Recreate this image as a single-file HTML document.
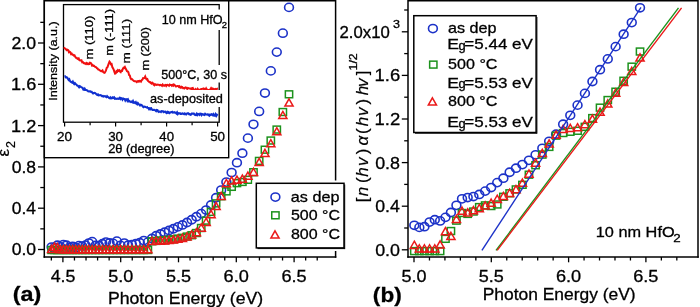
<!DOCTYPE html><html><head><meta charset="utf-8"><style>html,body{margin:0;padding:0;background:#fff;width:700px;height:307px;overflow:hidden}</style></head><body><svg width="700" height="307" viewBox="0 0 700 307" style="position:absolute;left:0;top:0;will-change:transform">
<rect width="700" height="307" fill="#fff"/>
<g font-family='"Liberation Sans", sans-serif'>
<line x1="38.00" y1="249.50" x2="44.30" y2="249.50" stroke="#000" stroke-width="1.3"/>
<line x1="40.30" y1="228.85" x2="44.30" y2="228.85" stroke="#000" stroke-width="1.3"/>
<line x1="38.00" y1="208.20" x2="44.30" y2="208.20" stroke="#000" stroke-width="1.3"/>
<line x1="40.30" y1="187.55" x2="44.30" y2="187.55" stroke="#000" stroke-width="1.3"/>
<line x1="38.00" y1="166.90" x2="44.30" y2="166.90" stroke="#000" stroke-width="1.3"/>
<line x1="40.30" y1="146.25" x2="44.30" y2="146.25" stroke="#000" stroke-width="1.3"/>
<line x1="38.00" y1="125.60" x2="44.30" y2="125.60" stroke="#000" stroke-width="1.3"/>
<line x1="40.30" y1="104.95" x2="44.30" y2="104.95" stroke="#000" stroke-width="1.3"/>
<line x1="38.00" y1="84.30" x2="44.30" y2="84.30" stroke="#000" stroke-width="1.3"/>
<line x1="40.30" y1="63.65" x2="44.30" y2="63.65" stroke="#000" stroke-width="1.3"/>
<line x1="38.00" y1="43.00" x2="44.30" y2="43.00" stroke="#000" stroke-width="1.3"/>
<line x1="40.30" y1="22.35" x2="44.30" y2="22.35" stroke="#000" stroke-width="1.3"/>
<line x1="51.34" y1="257.00" x2="51.34" y2="260.50" stroke="#000" stroke-width="1.3"/>
<line x1="62.90" y1="257.00" x2="62.90" y2="262.30" stroke="#000" stroke-width="1.3"/>
<line x1="74.46" y1="257.00" x2="74.46" y2="260.50" stroke="#000" stroke-width="1.3"/>
<line x1="86.02" y1="257.00" x2="86.02" y2="260.50" stroke="#000" stroke-width="1.3"/>
<line x1="97.58" y1="257.00" x2="97.58" y2="260.50" stroke="#000" stroke-width="1.3"/>
<line x1="109.14" y1="257.00" x2="109.14" y2="260.50" stroke="#000" stroke-width="1.3"/>
<line x1="120.70" y1="257.00" x2="120.70" y2="262.30" stroke="#000" stroke-width="1.3"/>
<line x1="132.26" y1="257.00" x2="132.26" y2="260.50" stroke="#000" stroke-width="1.3"/>
<line x1="143.82" y1="257.00" x2="143.82" y2="260.50" stroke="#000" stroke-width="1.3"/>
<line x1="155.38" y1="257.00" x2="155.38" y2="260.50" stroke="#000" stroke-width="1.3"/>
<line x1="166.94" y1="257.00" x2="166.94" y2="260.50" stroke="#000" stroke-width="1.3"/>
<line x1="178.50" y1="257.00" x2="178.50" y2="262.30" stroke="#000" stroke-width="1.3"/>
<line x1="190.06" y1="257.00" x2="190.06" y2="260.50" stroke="#000" stroke-width="1.3"/>
<line x1="201.62" y1="257.00" x2="201.62" y2="260.50" stroke="#000" stroke-width="1.3"/>
<line x1="213.18" y1="257.00" x2="213.18" y2="260.50" stroke="#000" stroke-width="1.3"/>
<line x1="224.74" y1="257.00" x2="224.74" y2="260.50" stroke="#000" stroke-width="1.3"/>
<line x1="236.30" y1="257.00" x2="236.30" y2="262.30" stroke="#000" stroke-width="1.3"/>
<line x1="247.86" y1="257.00" x2="247.86" y2="260.50" stroke="#000" stroke-width="1.3"/>
<line x1="259.42" y1="257.00" x2="259.42" y2="260.50" stroke="#000" stroke-width="1.3"/>
<line x1="270.98" y1="257.00" x2="270.98" y2="260.50" stroke="#000" stroke-width="1.3"/>
<line x1="282.54" y1="257.00" x2="282.54" y2="260.50" stroke="#000" stroke-width="1.3"/>
<line x1="294.10" y1="257.00" x2="294.10" y2="262.30" stroke="#000" stroke-width="1.3"/>
<line x1="305.66" y1="257.00" x2="305.66" y2="260.50" stroke="#000" stroke-width="1.3"/>
<line x1="317.22" y1="257.00" x2="317.22" y2="260.50" stroke="#000" stroke-width="1.3"/>
<text transform="translate(11.70,255.40) scale(1.064,1)" font-size="16.5" font-weight="normal" font-style="normal" fill="#000" stroke="#000" stroke-width="0.301" >0.0</text>
<text transform="translate(11.70,214.10) scale(1.056,1)" font-size="16.5" font-weight="normal" font-style="normal" fill="#000" stroke="#000" stroke-width="0.303" >0.4</text>
<text transform="translate(11.70,172.80) scale(1.064,1)" font-size="16.5" font-weight="normal" font-style="normal" fill="#000" stroke="#000" stroke-width="0.301" >0.8</text>
<text transform="translate(11.04,131.50) scale(1.102,1)" font-size="16.5" font-weight="normal" font-style="normal" fill="#000" stroke="#000" stroke-width="0.290" >1.2</text>
<text transform="translate(11.04,90.20) scale(1.098,1)" font-size="16.5" font-weight="normal" font-style="normal" fill="#000" stroke="#000" stroke-width="0.292" >1.6</text>
<text transform="translate(11.52,48.90) scale(1.072,1)" font-size="16.5" font-weight="normal" font-style="normal" fill="#000" stroke="#000" stroke-width="0.298" >2.0</text>
<text transform="translate(50.65,282.00) scale(1.079,1)" font-size="16.5" font-weight="normal" font-style="normal" fill="#000" stroke="#000" stroke-width="0.296" >4.5</text>
<text transform="translate(108.18,282.00) scale(1.092,1)" font-size="16.5" font-weight="normal" font-style="normal" fill="#000" stroke="#000" stroke-width="0.293" >5.0</text>
<text transform="translate(165.98,282.00) scale(1.092,1)" font-size="16.5" font-weight="normal" font-style="normal" fill="#000" stroke="#000" stroke-width="0.293" >5.5</text>
<text transform="translate(223.59,282.00) scale(1.100,1)" font-size="16.5" font-weight="normal" font-style="normal" fill="#000" stroke="#000" stroke-width="0.291" >6.0</text>
<text transform="translate(281.39,282.00) scale(1.100,1)" font-size="16.5" font-weight="normal" font-style="normal" fill="#000" stroke="#000" stroke-width="0.291" >6.5</text>
<text transform="translate(107.88,303.50) scale(1.086,1)" font-size="16.3" font-weight="normal" font-style="normal" fill="#000" stroke="#000" stroke-width="0.295" >Photon Energy (eV)</text>
<text transform="translate(12.63,301.20) scale(1.181,1)" font-size="19.8" font-weight="bold" font-style="normal" fill="#000" stroke="#000" stroke-width="0.271" >(a)</text>
<text transform="translate(9.4,156.6) rotate(-90)" font-size="17" fill="#000" stroke="#000" stroke-width="0.2">ε</text>
<text transform="translate(14.9,148.0) rotate(-90)" font-size="12.5" fill="#000" stroke="#000" stroke-width="0.2">2</text>
<ellipse cx="51.59" cy="247.04" rx="4.4" ry="4.1" fill="none" stroke="#1c32c8" stroke-width="1.6"/>
<ellipse cx="54.50" cy="247.42" rx="4.4" ry="4.1" fill="none" stroke="#1c32c8" stroke-width="1.6"/>
<ellipse cx="57.44" cy="245.26" rx="4.4" ry="4.1" fill="none" stroke="#1c32c8" stroke-width="1.6"/>
<ellipse cx="60.41" cy="246.85" rx="4.4" ry="4.1" fill="none" stroke="#1c32c8" stroke-width="1.6"/>
<ellipse cx="63.42" cy="244.55" rx="4.4" ry="4.1" fill="none" stroke="#1c32c8" stroke-width="1.6"/>
<ellipse cx="66.47" cy="245.21" rx="4.4" ry="4.1" fill="none" stroke="#1c32c8" stroke-width="1.6"/>
<ellipse cx="69.55" cy="247.27" rx="4.4" ry="4.1" fill="none" stroke="#1c32c8" stroke-width="1.6"/>
<ellipse cx="72.66" cy="246.30" rx="4.4" ry="4.1" fill="none" stroke="#1c32c8" stroke-width="1.6"/>
<ellipse cx="75.82" cy="247.58" rx="4.4" ry="4.1" fill="none" stroke="#1c32c8" stroke-width="1.6"/>
<ellipse cx="79.01" cy="245.63" rx="4.4" ry="4.1" fill="none" stroke="#1c32c8" stroke-width="1.6"/>
<ellipse cx="82.24" cy="246.12" rx="4.4" ry="4.1" fill="none" stroke="#1c32c8" stroke-width="1.6"/>
<ellipse cx="85.51" cy="245.17" rx="4.4" ry="4.1" fill="none" stroke="#1c32c8" stroke-width="1.6"/>
<ellipse cx="88.82" cy="243.04" rx="4.4" ry="4.1" fill="none" stroke="#1c32c8" stroke-width="1.6"/>
<ellipse cx="92.17" cy="241.62" rx="4.4" ry="4.1" fill="none" stroke="#1c32c8" stroke-width="1.6"/>
<ellipse cx="95.56" cy="245.50" rx="4.4" ry="4.1" fill="none" stroke="#1c32c8" stroke-width="1.6"/>
<ellipse cx="98.99" cy="245.69" rx="4.4" ry="4.1" fill="none" stroke="#1c32c8" stroke-width="1.6"/>
<ellipse cx="102.47" cy="243.73" rx="4.4" ry="4.1" fill="none" stroke="#1c32c8" stroke-width="1.6"/>
<ellipse cx="105.99" cy="242.06" rx="4.4" ry="4.1" fill="none" stroke="#1c32c8" stroke-width="1.6"/>
<ellipse cx="109.55" cy="242.99" rx="4.4" ry="4.1" fill="none" stroke="#1c32c8" stroke-width="1.6"/>
<ellipse cx="113.16" cy="243.39" rx="4.4" ry="4.1" fill="none" stroke="#1c32c8" stroke-width="1.6"/>
<ellipse cx="116.82" cy="241.17" rx="4.4" ry="4.1" fill="none" stroke="#1c32c8" stroke-width="1.6"/>
<ellipse cx="120.52" cy="245.36" rx="4.4" ry="4.1" fill="none" stroke="#1c32c8" stroke-width="1.6"/>
<ellipse cx="124.27" cy="243.08" rx="4.4" ry="4.1" fill="none" stroke="#1c32c8" stroke-width="1.6"/>
<ellipse cx="128.07" cy="245.19" rx="4.4" ry="4.1" fill="none" stroke="#1c32c8" stroke-width="1.6"/>
<ellipse cx="131.92" cy="244.66" rx="4.4" ry="4.1" fill="none" stroke="#1c32c8" stroke-width="1.6"/>
<ellipse cx="135.83" cy="243.69" rx="4.4" ry="4.1" fill="none" stroke="#1c32c8" stroke-width="1.6"/>
<ellipse cx="139.78" cy="242.73" rx="4.4" ry="4.1" fill="none" stroke="#1c32c8" stroke-width="1.6"/>
<ellipse cx="143.79" cy="240.58" rx="4.4" ry="4.1" fill="none" stroke="#1c32c8" stroke-width="1.6"/>
<ellipse cx="147.85" cy="242.12" rx="4.4" ry="4.1" fill="none" stroke="#1c32c8" stroke-width="1.6"/>
<ellipse cx="151.96" cy="238.49" rx="4.4" ry="4.1" fill="none" stroke="#1c32c8" stroke-width="1.6"/>
<ellipse cx="156.13" cy="235.76" rx="4.4" ry="4.1" fill="none" stroke="#1c32c8" stroke-width="1.6"/>
<ellipse cx="160.36" cy="233.99" rx="4.4" ry="4.1" fill="none" stroke="#1c32c8" stroke-width="1.6"/>
<ellipse cx="164.65" cy="232.24" rx="4.4" ry="4.1" fill="none" stroke="#1c32c8" stroke-width="1.6"/>
<ellipse cx="169.00" cy="230.51" rx="4.4" ry="4.1" fill="none" stroke="#1c32c8" stroke-width="1.6"/>
<ellipse cx="173.41" cy="228.75" rx="4.4" ry="4.1" fill="none" stroke="#1c32c8" stroke-width="1.6"/>
<ellipse cx="177.88" cy="226.86" rx="4.4" ry="4.1" fill="none" stroke="#1c32c8" stroke-width="1.6"/>
<ellipse cx="182.42" cy="224.94" rx="4.4" ry="4.1" fill="none" stroke="#1c32c8" stroke-width="1.6"/>
<ellipse cx="187.02" cy="222.52" rx="4.4" ry="4.1" fill="none" stroke="#1c32c8" stroke-width="1.6"/>
<ellipse cx="191.69" cy="219.76" rx="4.4" ry="4.1" fill="none" stroke="#1c32c8" stroke-width="1.6"/>
<ellipse cx="196.42" cy="216.72" rx="4.4" ry="4.1" fill="none" stroke="#1c32c8" stroke-width="1.6"/>
<ellipse cx="201.23" cy="213.62" rx="4.4" ry="4.1" fill="none" stroke="#1c32c8" stroke-width="1.6"/>
<ellipse cx="206.11" cy="210.03" rx="4.4" ry="4.1" fill="none" stroke="#1c32c8" stroke-width="1.6"/>
<ellipse cx="211.06" cy="205.02" rx="4.4" ry="4.1" fill="none" stroke="#1c32c8" stroke-width="1.6"/>
<ellipse cx="216.08" cy="197.71" rx="4.4" ry="4.1" fill="none" stroke="#1c32c8" stroke-width="1.6"/>
<ellipse cx="221.18" cy="190.09" rx="4.4" ry="4.1" fill="none" stroke="#1c32c8" stroke-width="1.6"/>
<ellipse cx="226.36" cy="182.08" rx="4.4" ry="4.1" fill="none" stroke="#1c32c8" stroke-width="1.6"/>
<ellipse cx="231.62" cy="172.59" rx="4.4" ry="4.1" fill="none" stroke="#1c32c8" stroke-width="1.6"/>
<ellipse cx="236.96" cy="162.69" rx="4.4" ry="4.1" fill="none" stroke="#1c32c8" stroke-width="1.6"/>
<ellipse cx="242.38" cy="153.18" rx="4.4" ry="4.1" fill="none" stroke="#1c32c8" stroke-width="1.6"/>
<ellipse cx="247.89" cy="138.13" rx="4.4" ry="4.1" fill="none" stroke="#1c32c8" stroke-width="1.6"/>
<ellipse cx="253.48" cy="124.34" rx="4.4" ry="4.1" fill="none" stroke="#1c32c8" stroke-width="1.6"/>
<ellipse cx="259.17" cy="111.41" rx="4.4" ry="4.1" fill="none" stroke="#1c32c8" stroke-width="1.6"/>
<ellipse cx="264.94" cy="93.07" rx="4.4" ry="4.1" fill="none" stroke="#1c32c8" stroke-width="1.6"/>
<ellipse cx="270.81" cy="70.89" rx="4.4" ry="4.1" fill="none" stroke="#1c32c8" stroke-width="1.6"/>
<ellipse cx="276.78" cy="52.12" rx="4.4" ry="4.1" fill="none" stroke="#1c32c8" stroke-width="1.6"/>
<ellipse cx="282.85" cy="33.15" rx="4.4" ry="4.1" fill="none" stroke="#1c32c8" stroke-width="1.6"/>
<ellipse cx="289.01" cy="7.38" rx="4.4" ry="4.1" fill="none" stroke="#1c32c8" stroke-width="1.6"/>
<rect x="47.94" y="246.57" width="7.30" height="6.90" fill="none" stroke="#1c921c" stroke-width="1.5"/>
<rect x="50.85" y="246.57" width="7.30" height="6.90" fill="none" stroke="#1c921c" stroke-width="1.5"/>
<rect x="53.79" y="246.57" width="7.30" height="6.90" fill="none" stroke="#1c921c" stroke-width="1.5"/>
<rect x="56.76" y="246.57" width="7.30" height="6.90" fill="none" stroke="#1c921c" stroke-width="1.5"/>
<rect x="59.77" y="246.57" width="7.30" height="6.90" fill="none" stroke="#1c921c" stroke-width="1.5"/>
<rect x="62.82" y="246.57" width="7.30" height="6.90" fill="none" stroke="#1c921c" stroke-width="1.5"/>
<rect x="65.90" y="246.57" width="7.30" height="6.90" fill="none" stroke="#1c921c" stroke-width="1.5"/>
<rect x="69.01" y="246.57" width="7.30" height="6.90" fill="none" stroke="#1c921c" stroke-width="1.5"/>
<rect x="72.17" y="246.57" width="7.30" height="6.90" fill="none" stroke="#1c921c" stroke-width="1.5"/>
<rect x="75.36" y="246.57" width="7.30" height="6.90" fill="none" stroke="#1c921c" stroke-width="1.5"/>
<rect x="78.59" y="246.57" width="7.30" height="6.90" fill="none" stroke="#1c921c" stroke-width="1.5"/>
<rect x="81.86" y="246.57" width="7.30" height="6.90" fill="none" stroke="#1c921c" stroke-width="1.5"/>
<rect x="85.17" y="246.57" width="7.30" height="6.90" fill="none" stroke="#1c921c" stroke-width="1.5"/>
<rect x="88.52" y="246.57" width="7.30" height="6.90" fill="none" stroke="#1c921c" stroke-width="1.5"/>
<rect x="91.91" y="246.57" width="7.30" height="6.90" fill="none" stroke="#1c921c" stroke-width="1.5"/>
<rect x="95.34" y="246.57" width="7.30" height="6.90" fill="none" stroke="#1c921c" stroke-width="1.5"/>
<rect x="98.82" y="246.57" width="7.30" height="6.90" fill="none" stroke="#1c921c" stroke-width="1.5"/>
<rect x="102.34" y="246.57" width="7.30" height="6.90" fill="none" stroke="#1c921c" stroke-width="1.5"/>
<rect x="105.90" y="246.57" width="7.30" height="6.90" fill="none" stroke="#1c921c" stroke-width="1.5"/>
<rect x="109.51" y="246.57" width="7.30" height="6.90" fill="none" stroke="#1c921c" stroke-width="1.5"/>
<rect x="113.17" y="246.57" width="7.30" height="6.90" fill="none" stroke="#1c921c" stroke-width="1.5"/>
<rect x="116.87" y="246.57" width="7.30" height="6.90" fill="none" stroke="#1c921c" stroke-width="1.5"/>
<rect x="120.62" y="246.57" width="7.30" height="6.90" fill="none" stroke="#1c921c" stroke-width="1.5"/>
<rect x="124.42" y="246.57" width="7.30" height="6.90" fill="none" stroke="#1c921c" stroke-width="1.5"/>
<rect x="128.27" y="246.57" width="7.30" height="6.90" fill="none" stroke="#1c921c" stroke-width="1.5"/>
<rect x="132.18" y="246.57" width="7.30" height="6.90" fill="none" stroke="#1c921c" stroke-width="1.5"/>
<rect x="136.13" y="246.57" width="7.30" height="6.90" fill="none" stroke="#1c921c" stroke-width="1.5"/>
<rect x="140.14" y="246.57" width="7.30" height="6.90" fill="none" stroke="#1c921c" stroke-width="1.5"/>
<rect x="144.20" y="246.57" width="7.30" height="6.90" fill="none" stroke="#1c921c" stroke-width="1.5"/>
<rect x="148.31" y="237.79" width="7.30" height="6.90" fill="none" stroke="#1c921c" stroke-width="1.5"/>
<rect x="152.48" y="237.45" width="7.30" height="6.90" fill="none" stroke="#1c921c" stroke-width="1.5"/>
<rect x="156.71" y="237.10" width="7.30" height="6.90" fill="none" stroke="#1c921c" stroke-width="1.5"/>
<rect x="161.00" y="236.75" width="7.30" height="6.90" fill="none" stroke="#1c921c" stroke-width="1.5"/>
<rect x="165.35" y="236.30" width="7.30" height="6.90" fill="none" stroke="#1c921c" stroke-width="1.5"/>
<rect x="169.76" y="235.83" width="7.30" height="6.90" fill="none" stroke="#1c921c" stroke-width="1.5"/>
<rect x="174.23" y="235.13" width="7.30" height="6.90" fill="none" stroke="#1c921c" stroke-width="1.5"/>
<rect x="178.77" y="234.34" width="7.30" height="6.90" fill="none" stroke="#1c921c" stroke-width="1.5"/>
<rect x="183.37" y="233.13" width="7.30" height="6.90" fill="none" stroke="#1c921c" stroke-width="1.5"/>
<rect x="188.04" y="231.79" width="7.30" height="6.90" fill="none" stroke="#1c921c" stroke-width="1.5"/>
<rect x="192.77" y="229.58" width="7.30" height="6.90" fill="none" stroke="#1c921c" stroke-width="1.5"/>
<rect x="197.58" y="224.54" width="7.30" height="6.90" fill="none" stroke="#1c921c" stroke-width="1.5"/>
<rect x="202.46" y="217.17" width="7.30" height="6.90" fill="none" stroke="#1c921c" stroke-width="1.5"/>
<rect x="207.41" y="208.44" width="7.30" height="6.90" fill="none" stroke="#1c921c" stroke-width="1.5"/>
<rect x="212.43" y="199.92" width="7.30" height="6.90" fill="none" stroke="#1c921c" stroke-width="1.5"/>
<rect x="217.53" y="192.80" width="7.30" height="6.90" fill="none" stroke="#1c921c" stroke-width="1.5"/>
<rect x="222.71" y="187.93" width="7.30" height="6.90" fill="none" stroke="#1c921c" stroke-width="1.5"/>
<rect x="227.97" y="183.39" width="7.30" height="6.90" fill="none" stroke="#1c921c" stroke-width="1.5"/>
<rect x="233.31" y="179.69" width="7.30" height="6.90" fill="none" stroke="#1c921c" stroke-width="1.5"/>
<rect x="238.73" y="178.48" width="7.30" height="6.90" fill="none" stroke="#1c921c" stroke-width="1.5"/>
<rect x="244.24" y="176.34" width="7.30" height="6.90" fill="none" stroke="#1c921c" stroke-width="1.5"/>
<rect x="249.83" y="168.77" width="7.30" height="6.90" fill="none" stroke="#1c921c" stroke-width="1.5"/>
<rect x="255.52" y="157.46" width="7.30" height="6.90" fill="none" stroke="#1c921c" stroke-width="1.5"/>
<rect x="261.29" y="146.25" width="7.30" height="6.90" fill="none" stroke="#1c921c" stroke-width="1.5"/>
<rect x="267.16" y="137.07" width="7.30" height="6.90" fill="none" stroke="#1c921c" stroke-width="1.5"/>
<rect x="273.13" y="126.11" width="7.30" height="6.90" fill="none" stroke="#1c921c" stroke-width="1.5"/>
<rect x="279.20" y="108.57" width="7.30" height="6.90" fill="none" stroke="#1c921c" stroke-width="1.5"/>
<rect x="285.36" y="90.85" width="7.30" height="6.90" fill="none" stroke="#1c921c" stroke-width="1.5"/>
<path d="M51.59,245.35 L55.69,252.55 L47.49,252.55 Z" fill="none" stroke="#ea1a1a" stroke-width="1.5" stroke-linejoin="miter"/>
<path d="M54.50,243.07 L58.60,250.27 L50.40,250.27 Z" fill="none" stroke="#ea1a1a" stroke-width="1.5" stroke-linejoin="miter"/>
<path d="M57.44,243.46 L61.54,250.66 L53.34,250.66 Z" fill="none" stroke="#ea1a1a" stroke-width="1.5" stroke-linejoin="miter"/>
<path d="M60.41,245.54 L64.51,252.74 L56.31,252.74 Z" fill="none" stroke="#ea1a1a" stroke-width="1.5" stroke-linejoin="miter"/>
<path d="M63.42,245.54 L67.52,252.74 L59.32,252.74 Z" fill="none" stroke="#ea1a1a" stroke-width="1.5" stroke-linejoin="miter"/>
<path d="M66.47,245.54 L70.57,252.74 L62.37,252.74 Z" fill="none" stroke="#ea1a1a" stroke-width="1.5" stroke-linejoin="miter"/>
<path d="M69.55,245.54 L73.65,252.74 L65.45,252.74 Z" fill="none" stroke="#ea1a1a" stroke-width="1.5" stroke-linejoin="miter"/>
<path d="M72.66,245.54 L76.76,252.74 L68.56,252.74 Z" fill="none" stroke="#ea1a1a" stroke-width="1.5" stroke-linejoin="miter"/>
<path d="M75.82,245.54 L79.92,252.74 L71.72,252.74 Z" fill="none" stroke="#ea1a1a" stroke-width="1.5" stroke-linejoin="miter"/>
<path d="M79.01,245.54 L83.11,252.74 L74.91,252.74 Z" fill="none" stroke="#ea1a1a" stroke-width="1.5" stroke-linejoin="miter"/>
<path d="M82.24,245.54 L86.34,252.74 L78.14,252.74 Z" fill="none" stroke="#ea1a1a" stroke-width="1.5" stroke-linejoin="miter"/>
<path d="M85.51,245.54 L89.61,252.74 L81.41,252.74 Z" fill="none" stroke="#ea1a1a" stroke-width="1.5" stroke-linejoin="miter"/>
<path d="M88.82,245.54 L92.92,252.74 L84.72,252.74 Z" fill="none" stroke="#ea1a1a" stroke-width="1.5" stroke-linejoin="miter"/>
<path d="M92.17,245.54 L96.27,252.74 L88.07,252.74 Z" fill="none" stroke="#ea1a1a" stroke-width="1.5" stroke-linejoin="miter"/>
<path d="M95.56,245.54 L99.66,252.74 L91.46,252.74 Z" fill="none" stroke="#ea1a1a" stroke-width="1.5" stroke-linejoin="miter"/>
<path d="M98.99,245.54 L103.09,252.74 L94.89,252.74 Z" fill="none" stroke="#ea1a1a" stroke-width="1.5" stroke-linejoin="miter"/>
<path d="M102.47,245.54 L106.57,252.74 L98.37,252.74 Z" fill="none" stroke="#ea1a1a" stroke-width="1.5" stroke-linejoin="miter"/>
<path d="M105.99,245.54 L110.09,252.74 L101.89,252.74 Z" fill="none" stroke="#ea1a1a" stroke-width="1.5" stroke-linejoin="miter"/>
<path d="M109.55,245.54 L113.65,252.74 L105.45,252.74 Z" fill="none" stroke="#ea1a1a" stroke-width="1.5" stroke-linejoin="miter"/>
<path d="M113.16,245.54 L117.26,252.74 L109.06,252.74 Z" fill="none" stroke="#ea1a1a" stroke-width="1.5" stroke-linejoin="miter"/>
<path d="M116.82,245.54 L120.92,252.74 L112.72,252.74 Z" fill="none" stroke="#ea1a1a" stroke-width="1.5" stroke-linejoin="miter"/>
<path d="M120.52,245.54 L124.62,252.74 L116.42,252.74 Z" fill="none" stroke="#ea1a1a" stroke-width="1.5" stroke-linejoin="miter"/>
<path d="M124.27,245.54 L128.37,252.74 L120.17,252.74 Z" fill="none" stroke="#ea1a1a" stroke-width="1.5" stroke-linejoin="miter"/>
<path d="M128.07,245.54 L132.17,252.74 L123.97,252.74 Z" fill="none" stroke="#ea1a1a" stroke-width="1.5" stroke-linejoin="miter"/>
<path d="M131.92,245.54 L136.02,252.74 L127.82,252.74 Z" fill="none" stroke="#ea1a1a" stroke-width="1.5" stroke-linejoin="miter"/>
<path d="M135.83,245.54 L139.93,252.74 L131.73,252.74 Z" fill="none" stroke="#ea1a1a" stroke-width="1.5" stroke-linejoin="miter"/>
<path d="M139.78,245.54 L143.88,252.74 L135.68,252.74 Z" fill="none" stroke="#ea1a1a" stroke-width="1.5" stroke-linejoin="miter"/>
<path d="M143.79,245.54 L147.89,252.74 L139.69,252.74 Z" fill="none" stroke="#ea1a1a" stroke-width="1.5" stroke-linejoin="miter"/>
<path d="M147.85,245.54 L151.95,252.74 L143.75,252.74 Z" fill="none" stroke="#ea1a1a" stroke-width="1.5" stroke-linejoin="miter"/>
<path d="M151.96,237.28 L156.06,244.48 L147.86,244.48 Z" fill="none" stroke="#ea1a1a" stroke-width="1.5" stroke-linejoin="miter"/>
<path d="M156.13,237.11 L160.23,244.31 L152.03,244.31 Z" fill="none" stroke="#ea1a1a" stroke-width="1.5" stroke-linejoin="miter"/>
<path d="M160.36,236.94 L164.46,244.14 L156.26,244.14 Z" fill="none" stroke="#ea1a1a" stroke-width="1.5" stroke-linejoin="miter"/>
<path d="M164.65,236.77 L168.75,243.97 L160.55,243.97 Z" fill="none" stroke="#ea1a1a" stroke-width="1.5" stroke-linejoin="miter"/>
<path d="M169.00,236.31 L173.10,243.51 L164.90,243.51 Z" fill="none" stroke="#ea1a1a" stroke-width="1.5" stroke-linejoin="miter"/>
<path d="M173.41,235.84 L177.51,243.04 L169.31,243.04 Z" fill="none" stroke="#ea1a1a" stroke-width="1.5" stroke-linejoin="miter"/>
<path d="M177.88,235.13 L181.98,242.33 L173.78,242.33 Z" fill="none" stroke="#ea1a1a" stroke-width="1.5" stroke-linejoin="miter"/>
<path d="M182.42,234.35 L186.52,241.55 L178.32,241.55 Z" fill="none" stroke="#ea1a1a" stroke-width="1.5" stroke-linejoin="miter"/>
<path d="M187.02,232.71 L191.12,239.91 L182.92,239.91 Z" fill="none" stroke="#ea1a1a" stroke-width="1.5" stroke-linejoin="miter"/>
<path d="M191.69,230.84 L195.79,238.04 L187.59,238.04 Z" fill="none" stroke="#ea1a1a" stroke-width="1.5" stroke-linejoin="miter"/>
<path d="M196.42,228.56 L200.52,235.76 L192.32,235.76 Z" fill="none" stroke="#ea1a1a" stroke-width="1.5" stroke-linejoin="miter"/>
<path d="M201.23,223.94 L205.33,231.14 L197.13,231.14 Z" fill="none" stroke="#ea1a1a" stroke-width="1.5" stroke-linejoin="miter"/>
<path d="M206.11,218.24 L210.21,225.44 L202.01,225.44 Z" fill="none" stroke="#ea1a1a" stroke-width="1.5" stroke-linejoin="miter"/>
<path d="M211.06,210.43 L215.16,217.63 L206.96,217.63 Z" fill="none" stroke="#ea1a1a" stroke-width="1.5" stroke-linejoin="miter"/>
<path d="M216.08,202.36 L220.18,209.56 L211.98,209.56 Z" fill="none" stroke="#ea1a1a" stroke-width="1.5" stroke-linejoin="miter"/>
<path d="M221.18,192.30 L225.28,199.50 L217.08,199.50 Z" fill="none" stroke="#ea1a1a" stroke-width="1.5" stroke-linejoin="miter"/>
<path d="M226.36,179.46 L230.46,186.66 L222.26,186.66 Z" fill="none" stroke="#ea1a1a" stroke-width="1.5" stroke-linejoin="miter"/>
<path d="M231.62,176.84 L235.72,184.04 L227.52,184.04 Z" fill="none" stroke="#ea1a1a" stroke-width="1.5" stroke-linejoin="miter"/>
<path d="M236.96,176.04 L241.06,183.24 L232.86,183.24 Z" fill="none" stroke="#ea1a1a" stroke-width="1.5" stroke-linejoin="miter"/>
<path d="M242.38,175.04 L246.48,182.24 L238.28,182.24 Z" fill="none" stroke="#ea1a1a" stroke-width="1.5" stroke-linejoin="miter"/>
<path d="M247.89,172.02 L251.99,179.22 L243.79,179.22 Z" fill="none" stroke="#ea1a1a" stroke-width="1.5" stroke-linejoin="miter"/>
<path d="M253.48,168.38 L257.58,175.58 L249.38,175.58 Z" fill="none" stroke="#ea1a1a" stroke-width="1.5" stroke-linejoin="miter"/>
<path d="M259.17,158.36 L263.27,165.56 L255.07,165.56 Z" fill="none" stroke="#ea1a1a" stroke-width="1.5" stroke-linejoin="miter"/>
<path d="M264.94,149.32 L269.04,156.52 L260.84,156.52 Z" fill="none" stroke="#ea1a1a" stroke-width="1.5" stroke-linejoin="miter"/>
<path d="M270.81,139.67 L274.91,146.87 L266.71,146.87 Z" fill="none" stroke="#ea1a1a" stroke-width="1.5" stroke-linejoin="miter"/>
<path d="M276.78,127.67 L280.88,134.87 L272.68,134.87 Z" fill="none" stroke="#ea1a1a" stroke-width="1.5" stroke-linejoin="miter"/>
<path d="M282.85,111.41 L286.95,118.61 L278.75,118.61 Z" fill="none" stroke="#ea1a1a" stroke-width="1.5" stroke-linejoin="miter"/>
<path d="M289.01,98.84 L293.11,106.04 L284.91,106.04 Z" fill="none" stroke="#ea1a1a" stroke-width="1.5" stroke-linejoin="miter"/>
<rect x="44.3" y="-2" width="184.40" height="159.70" fill="#fff" stroke="#000" stroke-width="1.4"/>
<rect x="63.5" y="4.6" width="155.70" height="117.60" fill="none" stroke="#000" stroke-width="1.3"/>
<line x1="64.60" y1="122.20" x2="64.60" y2="126.50" stroke="#000" stroke-width="1.2"/>
<line x1="90.10" y1="122.20" x2="90.10" y2="125.20" stroke="#000" stroke-width="1.2"/>
<line x1="115.60" y1="122.20" x2="115.60" y2="126.50" stroke="#000" stroke-width="1.2"/>
<line x1="141.10" y1="122.20" x2="141.10" y2="125.20" stroke="#000" stroke-width="1.2"/>
<line x1="166.60" y1="122.20" x2="166.60" y2="126.50" stroke="#000" stroke-width="1.2"/>
<line x1="192.10" y1="122.20" x2="192.10" y2="125.20" stroke="#000" stroke-width="1.2"/>
<line x1="217.60" y1="122.20" x2="217.60" y2="126.50" stroke="#000" stroke-width="1.2"/>
<text transform="translate(57.02,141.40) scale(1.127,1)" font-size="12.0" font-weight="normal" font-style="normal" fill="#000" stroke="#000" stroke-width="0.284" >20</text>
<text transform="translate(108.16,141.40) scale(1.117,1)" font-size="12.0" font-weight="normal" font-style="normal" fill="#000" stroke="#000" stroke-width="0.287" >30</text>
<text transform="translate(159.37,141.40) scale(1.100,1)" font-size="12.0" font-weight="normal" font-style="normal" fill="#000" stroke="#000" stroke-width="0.291" >40</text>
<text transform="translate(210.16,141.40) scale(1.117,1)" font-size="12.0" font-weight="normal" font-style="normal" fill="#000" stroke="#000" stroke-width="0.287" >50</text>
<text transform="translate(108.16,152.50) scale(1.021,1)" font-size="12.6" font-weight="normal" font-style="normal" fill="#000" stroke="#000" stroke-width="0.314" >2θ (degree)</text>
<text transform="translate(56.90,100.83) rotate(-90) scale(1.102,1)" font-size="11.4" font-weight="normal" font-style="normal" fill="#000" stroke="#000" stroke-width="0.290" >Intensity (a.u.)</text>
<polyline points="64.00,47.33 64.70,48.42 65.40,48.64 66.10,49.60 66.80,50.18 67.50,49.71 68.20,50.15 68.90,52.15 69.60,51.63 70.30,52.11 71.00,54.00 71.70,53.57 72.40,54.80 73.10,54.74 73.80,55.61 74.50,55.31 75.20,56.77 75.90,57.77 76.60,57.73 77.30,58.70 78.00,59.11 78.70,58.49 79.40,60.21 80.10,60.38 80.80,60.33 81.50,60.31 82.20,62.28 82.90,62.05 83.60,62.92 84.30,63.39 85.00,63.27 85.70,63.82 86.40,63.05 87.10,63.96 87.80,63.40 88.50,64.28 89.20,64.18 89.90,62.78 90.60,62.99 91.30,63.66 92.00,65.53 92.70,65.10 93.40,65.96 94.10,65.89 94.80,66.72 95.50,66.93 96.20,67.29 96.90,68.14 97.60,68.57 98.30,69.58 99.00,69.61 99.70,70.42 100.40,70.64 101.10,71.23 101.80,71.01 102.50,70.44 103.20,72.05 103.90,72.59 104.60,72.83 105.30,71.73 106.00,70.38 106.70,67.87 107.40,67.38 108.10,65.34 108.80,63.45 109.50,61.69 110.20,62.55 110.90,64.23 111.60,64.04 112.30,67.03 113.00,68.24 113.70,69.67 114.40,71.84 115.10,73.56 115.80,73.22 116.50,71.20 117.20,71.71 117.90,70.16 118.60,70.84 119.30,70.26 120.00,71.62 120.70,72.17 121.40,70.61 122.10,70.80 122.80,68.86 123.50,67.74 124.20,67.98 124.90,67.01 125.60,68.37 126.30,69.81 127.00,71.23 127.70,71.47 128.40,72.33 129.10,75.12 129.80,75.48 130.50,77.99 131.20,79.23 131.90,79.16 132.60,79.79 133.30,80.38 134.00,81.08 134.70,81.29 135.40,81.26 136.10,81.40 136.80,82.02 137.50,81.27 138.20,81.17 138.90,81.73 139.60,80.90 140.30,80.96 141.00,81.59 141.70,80.18 142.40,79.65 143.10,78.09 143.80,78.24 144.50,77.95 145.20,76.55 145.90,78.44 146.60,79.29 147.30,79.07 148.00,80.91 148.70,81.44 149.40,82.24 150.10,82.06 150.80,83.12 151.50,83.59 152.20,82.71 152.90,83.19 153.60,84.72 154.30,85.32 155.00,84.13 155.70,84.59 156.40,84.93 157.10,84.52 157.80,84.69 158.50,84.69 159.20,84.88 159.90,85.38 160.60,84.94 161.30,85.17 162.00,85.89 162.70,84.55 163.40,85.52 164.10,85.82 164.80,85.06 165.50,84.90 166.20,85.95 166.90,84.93 167.60,84.84 168.30,85.28 169.00,85.76 169.70,84.65 170.40,84.99 171.10,84.95 171.80,85.79 172.50,85.02 173.20,85.71 173.90,84.42 174.60,84.94 175.30,85.83 176.00,86.58 176.70,86.13 177.40,85.96 178.10,85.91 178.80,86.79 179.50,86.31 180.20,87.56 180.90,87.75 181.60,86.71 182.30,87.02 183.00,88.11 183.70,87.95 184.40,88.38 185.10,87.69 185.80,87.44 186.50,87.87 187.20,88.87 187.90,88.00 188.60,88.21 189.30,88.41 190.00,88.48 190.70,88.54 191.40,89.53 192.10,88.22 192.80,88.02 193.50,89.78 194.20,89.74 194.90,90.00 195.60,89.08 196.30,90.08 197.00,90.07 197.70,88.80 198.40,89.74 199.10,89.91 199.80,89.59 200.50,89.33 201.20,88.92 201.90,89.01 202.60,88.81 203.30,88.52 204.00,89.46 204.70,88.92 205.40,89.86 206.10,88.48 206.80,90.01 207.50,89.61 208.20,90.00 208.90,89.93 209.60,89.91 210.30,89.31 211.00,88.27 211.70,89.56 212.40,88.50 213.10,88.71 213.80,89.34 214.50,89.07 215.20,88.84 215.90,89.77 216.60,89.15 217.30,88.64 218.00,88.46" fill="none" stroke="#f01010" stroke-width="2.0"/>
<polyline points="64.40,76.35 65.10,76.26 65.80,77.41 66.50,77.24 67.20,77.56 67.90,78.77 68.60,79.88 69.30,79.32 70.00,81.04 70.70,81.78 71.40,82.05 72.10,82.57 72.80,81.59 73.50,83.19 74.20,84.10 74.90,83.13 75.60,84.01 76.30,84.49 77.00,85.45 77.70,85.74 78.40,86.30 79.10,87.20 79.80,86.16 80.50,86.61 81.20,87.10 81.90,87.45 82.60,87.70 83.30,89.69 84.00,89.82 84.70,88.79 85.40,89.90 86.10,89.92 86.80,90.22 87.50,90.56 88.20,91.37 88.90,91.53 89.60,91.40 90.30,91.37 91.00,91.89 91.70,91.79 92.40,92.84 93.10,93.40 93.80,93.07 94.50,92.80 95.20,93.21 95.90,93.77 96.60,94.41 97.30,94.94 98.00,94.43 98.70,95.41 99.40,95.30 100.10,95.17 100.80,95.28 101.50,95.72 102.20,96.31 102.90,96.00 103.60,96.63 104.30,96.34 105.00,96.09 105.70,96.75 106.40,97.17 107.10,96.19 107.80,96.96 108.50,97.10 109.20,98.05 109.90,98.29 110.60,97.42 111.30,98.46 112.00,98.33 112.70,97.45 113.40,97.88 114.10,97.34 114.80,98.65 115.50,98.45 116.20,98.92 116.90,98.82 117.60,98.66 118.30,98.85 119.00,98.61 119.70,97.92 120.40,98.93 121.10,98.02 121.80,98.41 122.50,99.69 123.20,98.51 123.90,98.73 124.60,98.88 125.30,100.43 126.00,99.31 126.70,99.16 127.40,100.81 128.10,99.72 128.80,101.24 129.50,101.14 130.20,101.65 130.90,102.07 131.60,101.61 132.30,102.22 133.00,101.06 133.70,102.59 134.40,102.35 135.10,102.93 135.80,102.14 136.50,103.64 137.20,104.32 137.90,103.09 138.60,103.91 139.30,104.69 140.00,105.51 140.70,104.80 141.40,105.04 142.10,105.51 142.80,106.51 143.50,107.09 144.20,106.65 144.90,106.82 145.60,107.08 146.30,107.21 147.00,107.55 147.70,107.16 148.40,108.12 149.10,109.19 149.80,108.39 150.50,109.21 151.20,108.37 151.90,109.53 152.60,109.86 153.30,109.92 154.00,109.84 154.70,109.99 155.40,110.48 156.10,111.15 156.80,110.01 157.50,110.12 158.20,111.50 158.90,112.01 159.60,111.50 160.30,111.46 161.00,112.03 161.70,111.15 162.40,111.37 163.10,111.32 163.80,112.09 164.50,111.67 165.20,111.60 165.90,112.50 166.60,113.04 167.30,111.93 168.00,112.73 168.70,112.26 169.40,113.11 170.10,112.68 170.80,112.17 171.50,112.13 172.20,111.84 172.90,112.72 173.60,112.60 174.30,112.28 175.00,112.68 175.70,112.67 176.40,113.54 177.10,112.46 177.80,114.03 178.50,113.15 179.20,113.41 179.90,113.22 180.60,113.92 181.30,113.94 182.00,113.51 182.70,113.41 183.40,113.89 184.10,114.17 184.80,113.40 185.50,114.04 186.20,114.49 186.90,113.65 187.60,113.26 188.30,113.31 189.00,114.23 189.70,114.19 190.40,114.75 191.10,114.60 191.80,113.54 192.50,113.49 193.20,113.66 193.90,113.57 194.60,114.55 195.30,114.87 196.00,114.98 196.70,113.86 197.40,114.99 198.10,114.03 198.80,114.25 199.50,114.83 200.20,113.70 200.90,113.74 201.60,115.11 202.30,114.16 203.00,114.30 203.70,114.73 204.40,114.93 205.10,113.76 205.80,114.38 206.50,114.59 207.20,114.70 207.90,114.23 208.60,114.93 209.30,115.62 210.00,114.63 210.70,114.93 211.40,114.19 212.10,114.49 212.80,115.22 213.50,114.25 214.20,115.66 214.90,115.73 215.60,114.29 216.30,115.83 217.00,114.84 217.70,115.58" fill="none" stroke="#1030d0" stroke-width="2.1"/>
<rect x="160" y="9.5" width="68" height="20.5" fill="#fff"/>
<rect x="158" y="65" width="70" height="17.5" fill="#fff"/>
<rect x="148" y="90" width="76" height="17" fill="#fff"/>
<text transform="translate(161.65,23.90) scale(1.042,1)" font-size="12.1" font-weight="normal" font-style="normal" fill="#000" stroke="#000" stroke-width="0.307" >10 nm HfO</text>
<text transform="translate(221.83,27.60) scale(1.074,1)" font-size="8.8" font-weight="normal" font-style="normal" fill="#000" stroke="#000" stroke-width="0.298" >2</text>
<text transform="translate(161.30,78.70) scale(1.014,1)" font-size="12.4" font-weight="normal" font-style="normal" fill="#000" stroke="#000" stroke-width="0.315" >500°C, 30 s</text>
<text transform="translate(150.03,103.30) scale(1.027,1)" font-size="12.4" font-weight="normal" font-style="normal" fill="#000" stroke="#000" stroke-width="0.312" >as-deposited</text>
<text transform="translate(92.70,59.55) rotate(-90) scale(1.107,1)" font-size="11.8" font-weight="normal" font-style="normal" fill="#000" stroke="#000" stroke-width="0.289" >m (110)</text>
<text transform="translate(113.40,55.64) rotate(-90) scale(1.090,1)" font-size="11.8" font-weight="normal" font-style="normal" fill="#000" stroke="#000" stroke-width="0.294" >m (-111)</text>
<text transform="translate(130.00,63.48) rotate(-90) scale(1.150,1)" font-size="11.8" font-weight="normal" font-style="normal" fill="#000" stroke="#000" stroke-width="0.278" >m (111)</text>
<text transform="translate(149.00,70.62) rotate(-90) scale(1.074,1)" font-size="11.8" font-weight="normal" font-style="normal" fill="#000" stroke="#000" stroke-width="0.298" >m (200)</text>
<line x1="44.30" y1="0.00" x2="44.30" y2="257.70" stroke="#000" stroke-width="1.5"/>
<line x1="43.60" y1="257.00" x2="336.30" y2="257.00" stroke="#000" stroke-width="1.5"/>
<line x1="335.60" y1="0.00" x2="335.60" y2="257.70" stroke="#000" stroke-width="1.5"/>
<line x1="44.30" y1="0.60" x2="335.60" y2="0.60" stroke="#000" stroke-width="1.8"/>
<rect x="252.5" y="180.5" width="95" height="70.5" fill="#fff"/>
<rect x="256.3" y="183.3" width="87.7" height="64.6" fill="#fff" stroke="#000" stroke-width="1.5"/>
<line x1="257.50" y1="248.60" x2="344.70" y2="248.60" stroke="#000" stroke-width="1.0"/>
<line x1="344.70" y1="184.50" x2="344.70" y2="249.10" stroke="#000" stroke-width="1.0"/>
<ellipse cx="275.40" cy="197.10" rx="4.4" ry="4.1" fill="none" stroke="#1c32c8" stroke-width="1.6"/>
<rect x="271.75" y="211.85" width="7.30" height="6.90" fill="none" stroke="#1c921c" stroke-width="1.5"/>
<path d="M275.00,230.84 L279.10,238.04 L270.90,238.04 Z" fill="none" stroke="#ea1a1a" stroke-width="1.5" stroke-linejoin="miter"/>
<text transform="translate(290.87,202.00) scale(1.124,1)" font-size="14.4" font-weight="normal" font-style="normal" fill="#000" stroke="#000" stroke-width="0.285" >as dep</text>
<text transform="translate(290.96,220.10) scale(1.110,1)" font-size="14.4" font-weight="normal" font-style="normal" fill="#000" stroke="#000" stroke-width="0.288" >500 °C</text>
<text transform="translate(290.88,238.50) scale(1.112,1)" font-size="14.4" font-weight="normal" font-style="normal" fill="#000" stroke="#000" stroke-width="0.288" >800 °C</text>
<line x1="401.80" y1="249.80" x2="408.00" y2="249.80" stroke="#000" stroke-width="1.3"/>
<line x1="404.20" y1="228.00" x2="408.00" y2="228.00" stroke="#000" stroke-width="1.3"/>
<line x1="401.80" y1="206.20" x2="408.00" y2="206.20" stroke="#000" stroke-width="1.3"/>
<line x1="404.20" y1="184.40" x2="408.00" y2="184.40" stroke="#000" stroke-width="1.3"/>
<line x1="401.80" y1="162.60" x2="408.00" y2="162.60" stroke="#000" stroke-width="1.3"/>
<line x1="404.20" y1="140.80" x2="408.00" y2="140.80" stroke="#000" stroke-width="1.3"/>
<line x1="401.80" y1="119.00" x2="408.00" y2="119.00" stroke="#000" stroke-width="1.3"/>
<line x1="404.20" y1="97.20" x2="408.00" y2="97.20" stroke="#000" stroke-width="1.3"/>
<line x1="401.80" y1="75.40" x2="408.00" y2="75.40" stroke="#000" stroke-width="1.3"/>
<line x1="404.20" y1="53.60" x2="408.00" y2="53.60" stroke="#000" stroke-width="1.3"/>
<line x1="401.80" y1="31.80" x2="408.00" y2="31.80" stroke="#000" stroke-width="1.3"/>
<line x1="404.20" y1="10.00" x2="408.00" y2="10.00" stroke="#000" stroke-width="1.3"/>
<line x1="414.00" y1="257.00" x2="414.00" y2="262.30" stroke="#000" stroke-width="1.3"/>
<line x1="429.46" y1="257.00" x2="429.46" y2="260.50" stroke="#000" stroke-width="1.3"/>
<line x1="444.92" y1="257.00" x2="444.92" y2="260.50" stroke="#000" stroke-width="1.3"/>
<line x1="460.38" y1="257.00" x2="460.38" y2="260.50" stroke="#000" stroke-width="1.3"/>
<line x1="475.84" y1="257.00" x2="475.84" y2="260.50" stroke="#000" stroke-width="1.3"/>
<line x1="491.30" y1="257.00" x2="491.30" y2="262.30" stroke="#000" stroke-width="1.3"/>
<line x1="506.76" y1="257.00" x2="506.76" y2="260.50" stroke="#000" stroke-width="1.3"/>
<line x1="522.22" y1="257.00" x2="522.22" y2="260.50" stroke="#000" stroke-width="1.3"/>
<line x1="537.68" y1="257.00" x2="537.68" y2="260.50" stroke="#000" stroke-width="1.3"/>
<line x1="553.14" y1="257.00" x2="553.14" y2="260.50" stroke="#000" stroke-width="1.3"/>
<line x1="568.60" y1="257.00" x2="568.60" y2="262.30" stroke="#000" stroke-width="1.3"/>
<line x1="584.06" y1="257.00" x2="584.06" y2="260.50" stroke="#000" stroke-width="1.3"/>
<line x1="599.52" y1="257.00" x2="599.52" y2="260.50" stroke="#000" stroke-width="1.3"/>
<line x1="614.98" y1="257.00" x2="614.98" y2="260.50" stroke="#000" stroke-width="1.3"/>
<line x1="630.44" y1="257.00" x2="630.44" y2="260.50" stroke="#000" stroke-width="1.3"/>
<line x1="645.90" y1="257.00" x2="645.90" y2="262.30" stroke="#000" stroke-width="1.3"/>
<line x1="661.36" y1="257.00" x2="661.36" y2="260.50" stroke="#000" stroke-width="1.3"/>
<line x1="676.82" y1="257.00" x2="676.82" y2="260.50" stroke="#000" stroke-width="1.3"/>
<text transform="translate(375.19,255.80) scale(1.083,1)" font-size="16.5" font-weight="normal" font-style="normal" fill="#000" stroke="#000" stroke-width="0.296" >0.0</text>
<text transform="translate(375.19,212.20) scale(1.074,1)" font-size="16.5" font-weight="normal" font-style="normal" fill="#000" stroke="#000" stroke-width="0.298" >0.4</text>
<text transform="translate(375.19,168.60) scale(1.083,1)" font-size="16.5" font-weight="normal" font-style="normal" fill="#000" stroke="#000" stroke-width="0.296" >0.8</text>
<text transform="translate(374.51,125.00) scale(1.121,1)" font-size="16.5" font-weight="normal" font-style="normal" fill="#000" stroke="#000" stroke-width="0.285" >1.2</text>
<text transform="translate(374.52,81.40) scale(1.117,1)" font-size="16.5" font-weight="normal" font-style="normal" fill="#000" stroke="#000" stroke-width="0.287" >1.6</text>
<text transform="translate(339.56,37.70) scale(0.984,1)" font-size="17.0" font-weight="normal" font-style="normal" fill="#000" stroke="#000" stroke-width="0.325" >2.0x10</text>
<text transform="translate(392.90,27.90) scale(1.101,1)" font-size="11.4" font-weight="normal" font-style="normal" fill="#000" stroke="#000" stroke-width="0.291" >3</text>
<text transform="translate(401.48,281.60) scale(1.092,1)" font-size="16.5" font-weight="normal" font-style="normal" fill="#000" stroke="#000" stroke-width="0.293" >5.0</text>
<text transform="translate(478.78,281.60) scale(1.092,1)" font-size="16.5" font-weight="normal" font-style="normal" fill="#000" stroke="#000" stroke-width="0.293" >5.5</text>
<text transform="translate(555.89,281.60) scale(1.100,1)" font-size="16.5" font-weight="normal" font-style="normal" fill="#000" stroke="#000" stroke-width="0.291" >6.0</text>
<text transform="translate(633.19,281.60) scale(1.100,1)" font-size="16.5" font-weight="normal" font-style="normal" fill="#000" stroke="#000" stroke-width="0.291" >6.5</text>
<text transform="translate(482.71,300.10) scale(1.069,1)" font-size="16.3" font-weight="normal" font-style="normal" fill="#000" stroke="#000" stroke-width="0.299" >Photon Energy (eV)</text>
<text transform="translate(372.87,302.20) scale(1.139,1)" font-size="19.8" font-weight="bold" font-style="normal" fill="#000" stroke="#000" stroke-width="0.281" >(b)</text>
<ellipse cx="414.32" cy="225.28" rx="4.4" ry="4.1" fill="none" stroke="#1c32c8" stroke-width="1.6"/>
<ellipse cx="419.34" cy="227.39" rx="4.4" ry="4.1" fill="none" stroke="#1c32c8" stroke-width="1.6"/>
<ellipse cx="424.43" cy="226.71" rx="4.4" ry="4.1" fill="none" stroke="#1c32c8" stroke-width="1.6"/>
<ellipse cx="429.59" cy="222.08" rx="4.4" ry="4.1" fill="none" stroke="#1c32c8" stroke-width="1.6"/>
<ellipse cx="434.81" cy="219.69" rx="4.4" ry="4.1" fill="none" stroke="#1c32c8" stroke-width="1.6"/>
<ellipse cx="440.11" cy="220.91" rx="4.4" ry="4.1" fill="none" stroke="#1c32c8" stroke-width="1.6"/>
<ellipse cx="445.47" cy="217.37" rx="4.4" ry="4.1" fill="none" stroke="#1c32c8" stroke-width="1.6"/>
<ellipse cx="450.91" cy="212.50" rx="4.4" ry="4.1" fill="none" stroke="#1c32c8" stroke-width="1.6"/>
<ellipse cx="456.43" cy="205.34" rx="4.4" ry="4.1" fill="none" stroke="#1c32c8" stroke-width="1.6"/>
<ellipse cx="462.01" cy="198.84" rx="4.4" ry="4.1" fill="none" stroke="#1c32c8" stroke-width="1.6"/>
<ellipse cx="467.68" cy="197.57" rx="4.4" ry="4.1" fill="none" stroke="#1c32c8" stroke-width="1.6"/>
<ellipse cx="473.42" cy="196.56" rx="4.4" ry="4.1" fill="none" stroke="#1c32c8" stroke-width="1.6"/>
<ellipse cx="479.25" cy="194.43" rx="4.4" ry="4.1" fill="none" stroke="#1c32c8" stroke-width="1.6"/>
<ellipse cx="485.16" cy="191.12" rx="4.4" ry="4.1" fill="none" stroke="#1c32c8" stroke-width="1.6"/>
<ellipse cx="491.15" cy="187.57" rx="4.4" ry="4.1" fill="none" stroke="#1c32c8" stroke-width="1.6"/>
<ellipse cx="497.22" cy="182.62" rx="4.4" ry="4.1" fill="none" stroke="#1c32c8" stroke-width="1.6"/>
<ellipse cx="503.39" cy="178.19" rx="4.4" ry="4.1" fill="none" stroke="#1c32c8" stroke-width="1.6"/>
<ellipse cx="509.64" cy="172.26" rx="4.4" ry="4.1" fill="none" stroke="#1c32c8" stroke-width="1.6"/>
<ellipse cx="515.98" cy="168.18" rx="4.4" ry="4.1" fill="none" stroke="#1c32c8" stroke-width="1.6"/>
<ellipse cx="522.42" cy="164.59" rx="4.4" ry="4.1" fill="none" stroke="#1c32c8" stroke-width="1.6"/>
<ellipse cx="528.95" cy="160.35" rx="4.4" ry="4.1" fill="none" stroke="#1c32c8" stroke-width="1.6"/>
<ellipse cx="535.58" cy="154.83" rx="4.4" ry="4.1" fill="none" stroke="#1c32c8" stroke-width="1.6"/>
<ellipse cx="542.31" cy="148.34" rx="4.4" ry="4.1" fill="none" stroke="#1c32c8" stroke-width="1.6"/>
<ellipse cx="549.15" cy="141.29" rx="4.4" ry="4.1" fill="none" stroke="#1c32c8" stroke-width="1.6"/>
<ellipse cx="556.08" cy="134.25" rx="4.4" ry="4.1" fill="none" stroke="#1c32c8" stroke-width="1.6"/>
<ellipse cx="563.13" cy="124.22" rx="4.4" ry="4.1" fill="none" stroke="#1c32c8" stroke-width="1.6"/>
<ellipse cx="570.28" cy="115.34" rx="4.4" ry="4.1" fill="none" stroke="#1c32c8" stroke-width="1.6"/>
<ellipse cx="577.55" cy="105.13" rx="4.4" ry="4.1" fill="none" stroke="#1c32c8" stroke-width="1.6"/>
<ellipse cx="584.92" cy="93.38" rx="4.4" ry="4.1" fill="none" stroke="#1c32c8" stroke-width="1.6"/>
<ellipse cx="592.42" cy="81.49" rx="4.4" ry="4.1" fill="none" stroke="#1c32c8" stroke-width="1.6"/>
<ellipse cx="600.04" cy="69.71" rx="4.4" ry="4.1" fill="none" stroke="#1c32c8" stroke-width="1.6"/>
<ellipse cx="607.78" cy="58.91" rx="4.4" ry="4.1" fill="none" stroke="#1c32c8" stroke-width="1.6"/>
<ellipse cx="615.64" cy="46.64" rx="4.4" ry="4.1" fill="none" stroke="#1c32c8" stroke-width="1.6"/>
<ellipse cx="623.64" cy="34.20" rx="4.4" ry="4.1" fill="none" stroke="#1c32c8" stroke-width="1.6"/>
<ellipse cx="631.76" cy="22.59" rx="4.4" ry="4.1" fill="none" stroke="#1c32c8" stroke-width="1.6"/>
<ellipse cx="640.03" cy="7.82" rx="4.4" ry="4.1" fill="none" stroke="#1c32c8" stroke-width="1.6"/>
<rect x="410.67" y="247.66" width="7.30" height="6.90" fill="none" stroke="#1c921c" stroke-width="1.5"/>
<rect x="415.69" y="247.66" width="7.30" height="6.90" fill="none" stroke="#1c921c" stroke-width="1.5"/>
<rect x="420.78" y="247.66" width="7.30" height="6.90" fill="none" stroke="#1c921c" stroke-width="1.5"/>
<rect x="425.94" y="247.66" width="7.30" height="6.90" fill="none" stroke="#1c921c" stroke-width="1.5"/>
<rect x="431.16" y="247.66" width="7.30" height="6.90" fill="none" stroke="#1c921c" stroke-width="1.5"/>
<rect x="436.46" y="247.66" width="7.30" height="6.90" fill="none" stroke="#1c921c" stroke-width="1.5"/>
<rect x="441.82" y="235.37" width="7.30" height="6.90" fill="none" stroke="#1c921c" stroke-width="1.5"/>
<rect x="447.26" y="227.58" width="7.30" height="6.90" fill="none" stroke="#1c921c" stroke-width="1.5"/>
<rect x="452.78" y="217.18" width="7.30" height="6.90" fill="none" stroke="#1c921c" stroke-width="1.5"/>
<rect x="458.36" y="209.55" width="7.30" height="6.90" fill="none" stroke="#1c921c" stroke-width="1.5"/>
<rect x="464.03" y="210.45" width="7.30" height="6.90" fill="none" stroke="#1c921c" stroke-width="1.5"/>
<rect x="469.77" y="208.08" width="7.30" height="6.90" fill="none" stroke="#1c921c" stroke-width="1.5"/>
<rect x="475.60" y="203.63" width="7.30" height="6.90" fill="none" stroke="#1c921c" stroke-width="1.5"/>
<rect x="481.51" y="201.94" width="7.30" height="6.90" fill="none" stroke="#1c921c" stroke-width="1.5"/>
<rect x="487.50" y="202.60" width="7.30" height="6.90" fill="none" stroke="#1c921c" stroke-width="1.5"/>
<rect x="493.57" y="201.03" width="7.30" height="6.90" fill="none" stroke="#1c921c" stroke-width="1.5"/>
<rect x="499.74" y="193.33" width="7.30" height="6.90" fill="none" stroke="#1c921c" stroke-width="1.5"/>
<rect x="505.99" y="189.85" width="7.30" height="6.90" fill="none" stroke="#1c921c" stroke-width="1.5"/>
<rect x="512.33" y="185.98" width="7.30" height="6.90" fill="none" stroke="#1c921c" stroke-width="1.5"/>
<rect x="518.77" y="181.36" width="7.30" height="6.90" fill="none" stroke="#1c921c" stroke-width="1.5"/>
<rect x="525.30" y="171.24" width="7.30" height="6.90" fill="none" stroke="#1c921c" stroke-width="1.5"/>
<rect x="531.93" y="161.78" width="7.30" height="6.90" fill="none" stroke="#1c921c" stroke-width="1.5"/>
<rect x="538.66" y="151.16" width="7.30" height="6.90" fill="none" stroke="#1c921c" stroke-width="1.5"/>
<rect x="545.50" y="143.47" width="7.30" height="6.90" fill="none" stroke="#1c921c" stroke-width="1.5"/>
<rect x="552.43" y="132.19" width="7.30" height="6.90" fill="none" stroke="#1c921c" stroke-width="1.5"/>
<rect x="559.48" y="129.57" width="7.30" height="6.90" fill="none" stroke="#1c921c" stroke-width="1.5"/>
<rect x="566.63" y="128.33" width="7.30" height="6.90" fill="none" stroke="#1c921c" stroke-width="1.5"/>
<rect x="573.90" y="127.33" width="7.30" height="6.90" fill="none" stroke="#1c921c" stroke-width="1.5"/>
<rect x="581.27" y="123.36" width="7.30" height="6.90" fill="none" stroke="#1c921c" stroke-width="1.5"/>
<rect x="588.77" y="114.63" width="7.30" height="6.90" fill="none" stroke="#1c921c" stroke-width="1.5"/>
<rect x="596.39" y="104.20" width="7.30" height="6.90" fill="none" stroke="#1c921c" stroke-width="1.5"/>
<rect x="604.13" y="96.57" width="7.30" height="6.90" fill="none" stroke="#1c921c" stroke-width="1.5"/>
<rect x="611.99" y="88.24" width="7.30" height="6.90" fill="none" stroke="#1c921c" stroke-width="1.5"/>
<rect x="619.99" y="77.30" width="7.30" height="6.90" fill="none" stroke="#1c921c" stroke-width="1.5"/>
<rect x="628.11" y="63.20" width="7.30" height="6.90" fill="none" stroke="#1c921c" stroke-width="1.5"/>
<rect x="636.38" y="48.08" width="7.30" height="6.90" fill="none" stroke="#1c921c" stroke-width="1.5"/>
<path d="M414.32,241.23 L418.42,248.43 L410.22,248.43 Z" fill="none" stroke="#ea1a1a" stroke-width="1.5" stroke-linejoin="miter"/>
<path d="M419.34,244.75 L423.44,251.95 L415.24,251.95 Z" fill="none" stroke="#ea1a1a" stroke-width="1.5" stroke-linejoin="miter"/>
<path d="M424.43,244.75 L428.53,251.95 L420.33,251.95 Z" fill="none" stroke="#ea1a1a" stroke-width="1.5" stroke-linejoin="miter"/>
<path d="M429.59,244.75 L433.69,251.95 L425.49,251.95 Z" fill="none" stroke="#ea1a1a" stroke-width="1.5" stroke-linejoin="miter"/>
<path d="M434.81,244.75 L438.91,251.95 L430.71,251.95 Z" fill="none" stroke="#ea1a1a" stroke-width="1.5" stroke-linejoin="miter"/>
<path d="M440.11,240.85 L444.21,248.05 L436.01,248.05 Z" fill="none" stroke="#ea1a1a" stroke-width="1.5" stroke-linejoin="miter"/>
<path d="M445.47,227.53 L449.57,234.73 L441.37,234.73 Z" fill="none" stroke="#ea1a1a" stroke-width="1.5" stroke-linejoin="miter"/>
<path d="M450.91,232.28 L455.01,239.48 L446.81,239.48 Z" fill="none" stroke="#ea1a1a" stroke-width="1.5" stroke-linejoin="miter"/>
<path d="M456.43,215.32 L460.53,222.52 L452.33,222.52 Z" fill="none" stroke="#ea1a1a" stroke-width="1.5" stroke-linejoin="miter"/>
<path d="M462.01,207.06 L466.11,214.26 L457.91,214.26 Z" fill="none" stroke="#ea1a1a" stroke-width="1.5" stroke-linejoin="miter"/>
<path d="M467.68,208.73 L471.78,215.93 L463.58,215.93 Z" fill="none" stroke="#ea1a1a" stroke-width="1.5" stroke-linejoin="miter"/>
<path d="M473.42,206.57 L477.52,213.77 L469.32,213.77 Z" fill="none" stroke="#ea1a1a" stroke-width="1.5" stroke-linejoin="miter"/>
<path d="M479.25,204.45 L483.35,211.65 L475.15,211.65 Z" fill="none" stroke="#ea1a1a" stroke-width="1.5" stroke-linejoin="miter"/>
<path d="M485.16,201.76 L489.26,208.96 L481.06,208.96 Z" fill="none" stroke="#ea1a1a" stroke-width="1.5" stroke-linejoin="miter"/>
<path d="M491.15,199.10 L495.25,206.30 L487.05,206.30 Z" fill="none" stroke="#ea1a1a" stroke-width="1.5" stroke-linejoin="miter"/>
<path d="M497.22,195.21 L501.32,202.41 L493.12,202.41 Z" fill="none" stroke="#ea1a1a" stroke-width="1.5" stroke-linejoin="miter"/>
<path d="M503.39,192.42 L507.49,199.62 L499.29,199.62 Z" fill="none" stroke="#ea1a1a" stroke-width="1.5" stroke-linejoin="miter"/>
<path d="M509.64,189.23 L513.74,196.43 L505.54,196.43 Z" fill="none" stroke="#ea1a1a" stroke-width="1.5" stroke-linejoin="miter"/>
<path d="M515.98,185.56 L520.08,192.76 L511.88,192.76 Z" fill="none" stroke="#ea1a1a" stroke-width="1.5" stroke-linejoin="miter"/>
<path d="M522.42,179.13 L526.52,186.33 L518.32,186.33 Z" fill="none" stroke="#ea1a1a" stroke-width="1.5" stroke-linejoin="miter"/>
<path d="M528.95,169.93 L533.05,177.13 L524.85,177.13 Z" fill="none" stroke="#ea1a1a" stroke-width="1.5" stroke-linejoin="miter"/>
<path d="M535.58,158.93 L539.68,166.13 L531.48,166.13 Z" fill="none" stroke="#ea1a1a" stroke-width="1.5" stroke-linejoin="miter"/>
<path d="M542.31,149.27 L546.41,156.47 L538.21,156.47 Z" fill="none" stroke="#ea1a1a" stroke-width="1.5" stroke-linejoin="miter"/>
<path d="M549.15,139.82 L553.25,147.02 L545.05,147.02 Z" fill="none" stroke="#ea1a1a" stroke-width="1.5" stroke-linejoin="miter"/>
<path d="M556.08,131.07 L560.18,138.27 L551.98,138.27 Z" fill="none" stroke="#ea1a1a" stroke-width="1.5" stroke-linejoin="miter"/>
<path d="M563.13,125.27 L567.23,132.47 L559.03,132.47 Z" fill="none" stroke="#ea1a1a" stroke-width="1.5" stroke-linejoin="miter"/>
<path d="M570.28,124.26 L574.38,131.46 L566.18,131.46 Z" fill="none" stroke="#ea1a1a" stroke-width="1.5" stroke-linejoin="miter"/>
<path d="M577.55,123.65 L581.65,130.85 L573.45,130.85 Z" fill="none" stroke="#ea1a1a" stroke-width="1.5" stroke-linejoin="miter"/>
<path d="M584.92,120.53 L589.02,127.73 L580.82,127.73 Z" fill="none" stroke="#ea1a1a" stroke-width="1.5" stroke-linejoin="miter"/>
<path d="M592.42,115.14 L596.52,122.34 L588.32,122.34 Z" fill="none" stroke="#ea1a1a" stroke-width="1.5" stroke-linejoin="miter"/>
<path d="M600.04,108.12 L604.14,115.32 L595.94,115.32 Z" fill="none" stroke="#ea1a1a" stroke-width="1.5" stroke-linejoin="miter"/>
<path d="M607.78,99.83 L611.88,107.03 L603.68,107.03 Z" fill="none" stroke="#ea1a1a" stroke-width="1.5" stroke-linejoin="miter"/>
<path d="M615.64,88.93 L619.74,96.13 L611.54,96.13 Z" fill="none" stroke="#ea1a1a" stroke-width="1.5" stroke-linejoin="miter"/>
<path d="M623.64,78.23 L627.74,85.43 L619.54,85.43 Z" fill="none" stroke="#ea1a1a" stroke-width="1.5" stroke-linejoin="miter"/>
<path d="M631.76,67.28 L635.86,74.48 L627.66,74.48 Z" fill="none" stroke="#ea1a1a" stroke-width="1.5" stroke-linejoin="miter"/>
<path d="M640.03,53.89 L644.13,61.09 L635.93,61.09 Z" fill="none" stroke="#ea1a1a" stroke-width="1.5" stroke-linejoin="miter"/>
<line x1="481.90" y1="250.40" x2="641.00" y2="7.30" stroke="#1c32c8" stroke-width="1.4"/>
<line x1="496.00" y1="250.40" x2="678.50" y2="7.80" stroke="#1c921c" stroke-width="1.4"/>
<line x1="497.20" y1="250.40" x2="681.60" y2="7.80" stroke="#ea1a1a" stroke-width="1.4"/>
<g transform="translate(368.2,201.5) rotate(-90)" font-size="17" fill="#000" stroke="#000" stroke-width="0.2"><text x="-0.69" y="0" font-style="normal">[</text><text x="5.25" y="0" font-style="italic">n</text><text x="18.48" y="0" font-style="normal">(</text><text x="24.75" y="0" font-style="italic">h</text><text x="35.57" y="0" font-style="italic">v</text><text x="47.33" y="0" font-style="normal">)</text><text x="55.9" y="0" font-style="italic">α</text><text x="67.48" y="0" font-style="normal">(</text><text x="75.25" y="0" font-style="italic">h</text><text x="85.57" y="0" font-style="italic">v</text><text x="97.03" y="0" font-style="normal">)</text><text x="106.25" y="0" font-style="italic">h</text><text x="114.57" y="0" font-style="italic">v</text><text x="126.33" y="0" font-style="normal">]</text></g>
<text transform="translate(357.00,70.42) rotate(-90) scale(1.091,1)" font-size="11.3" font-weight="normal" font-style="normal" fill="#000" stroke="#000" stroke-width="0.293" >1/2</text>
<line x1="408.00" y1="0.00" x2="408.00" y2="257.70" stroke="#000" stroke-width="1.5"/>
<line x1="407.30" y1="257.00" x2="698.70" y2="257.00" stroke="#000" stroke-width="1.5"/>
<line x1="698.00" y1="0.00" x2="698.00" y2="257.70" stroke="#000" stroke-width="1.5"/>
<line x1="408.00" y1="0.60" x2="698.00" y2="0.60" stroke="#000" stroke-width="1.8"/>
<rect x="413.8" y="15.7" width="122.3" height="116.8" fill="#fff" stroke="#000" stroke-width="1.5"/>
<line x1="415.00" y1="133.20" x2="536.90" y2="133.20" stroke="#000" stroke-width="1.0"/>
<line x1="536.90" y1="17.00" x2="536.90" y2="133.70" stroke="#000" stroke-width="1.0"/>
<ellipse cx="432.90" cy="28.60" rx="4.4" ry="4.1" fill="none" stroke="#1c32c8" stroke-width="1.6"/>
<rect x="429.65" y="61.15" width="7.30" height="6.90" fill="none" stroke="#1c921c" stroke-width="1.5"/>
<path d="M432.40,97.84 L436.50,105.04 L428.30,105.04 Z" fill="none" stroke="#ea1a1a" stroke-width="1.5" stroke-linejoin="miter"/>
<text transform="translate(447.97,33.30) scale(1.107,1)" font-size="14.6" font-weight="normal" font-style="normal" fill="#000" stroke="#000" stroke-width="0.289" >as dep</text>
<text transform="translate(448.06,69.30) scale(1.104,1)" font-size="14.6" font-weight="normal" font-style="normal" fill="#000" stroke="#000" stroke-width="0.290" >500 °C</text>
<text transform="translate(447.97,106.40) scale(1.106,1)" font-size="14.6" font-weight="normal" font-style="normal" fill="#000" stroke="#000" stroke-width="0.289" >800 °C</text>
<text transform="translate(447.29,49.20) scale(1.190,1)" font-size="14.8" font-weight="normal" font-style="normal" fill="#000" stroke="#000" stroke-width="0.269" >E</text>
<text transform="translate(458.48,50.00) scale(0.991,1)" font-size="13.0" font-weight="normal" font-style="normal" fill="#000" stroke="#000" stroke-width="0.323" >g</text>
<text transform="translate(464.35,49.20) scale(1.149,1)" font-size="14.8" font-weight="normal" font-style="normal" fill="#000" stroke="#000" stroke-width="0.278" >=5.44 eV</text>
<text transform="translate(447.29,87.60) scale(1.190,1)" font-size="14.8" font-weight="normal" font-style="normal" fill="#000" stroke="#000" stroke-width="0.269" >E</text>
<text transform="translate(458.48,88.40) scale(0.991,1)" font-size="13.0" font-weight="normal" font-style="normal" fill="#000" stroke="#000" stroke-width="0.323" >g</text>
<text transform="translate(464.35,87.60) scale(1.149,1)" font-size="14.8" font-weight="normal" font-style="normal" fill="#000" stroke="#000" stroke-width="0.278" >=5.53 eV</text>
<text transform="translate(447.29,126.70) scale(1.190,1)" font-size="14.8" font-weight="normal" font-style="normal" fill="#000" stroke="#000" stroke-width="0.269" >E</text>
<text transform="translate(458.48,127.50) scale(0.991,1)" font-size="13.0" font-weight="normal" font-style="normal" fill="#000" stroke="#000" stroke-width="0.323" >g</text>
<text transform="translate(464.35,126.70) scale(1.149,1)" font-size="14.8" font-weight="normal" font-style="normal" fill="#000" stroke="#000" stroke-width="0.278" >=5.53 eV</text>
<text transform="translate(595.78,237.00) scale(1.088,1)" font-size="15.0" font-weight="normal" font-style="normal" fill="#000" stroke="#000" stroke-width="0.294" >10 nm HfO</text>
<text transform="translate(673.33,242.10) scale(1.265,1)" font-size="10.6" font-weight="normal" font-style="normal" fill="#000" stroke="#000" stroke-width="0.253" >2</text>
</g></svg></body></html>
